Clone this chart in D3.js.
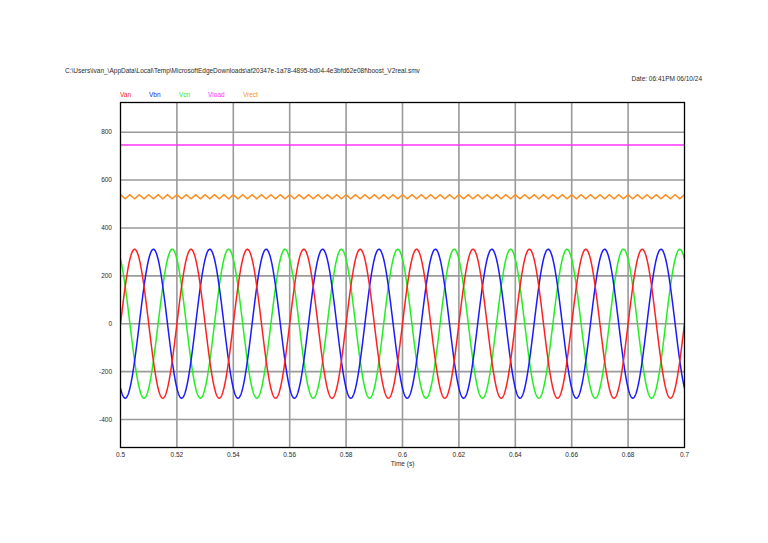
<!DOCTYPE html>
<html><head><meta charset="utf-8">
<script src="https://cdn.jsdelivr.net/npm/d3@7"></script>
<style>body{margin:0;background:#fff}svg{display:block}text{font-family:"Liberation Sans",Arial,sans-serif}</style>
</head><body><svg id="c" width="768" height="543"></svg>
<script>
// ---- data ----
const title = "C:\\Users\\ivan_\\AppData\\Local\\Temp\\MicrosoftEdgeDownloads\\af20347e-1a78-4895-bd04-4e3bfd62e08f\\boost_V2real.smv";
const dateLabel = "Date: 06:41PM 06/10/24";
const seriesNames = ["Van", "Vbn", "Vcn", "Vload", "Vrect"];
const seriesColors = ["#ff2020", "#1a1aff", "#22ee22", "#ff33ff", "#ff8c1a"];
const xTicks = [0.5, 0.52, 0.54, 0.56, 0.58, 0.6, 0.62, 0.64, 0.66, 0.68, 0.7];
const xTickLabels = ["0.5", "0.52", "0.54", "0.56", "0.58", "0.6", "0.62", "0.64", "0.66", "0.68", "0.7"];
const yTicks = [-400, -200, 0, 200, 400, 600, 800];
const yTickLabels = ["-400", "-200", "0", "200", "400", "600", "800"];
const xLabel = "Time (s)";
// AC phase voltages: peak (V), phase at t=0.5 s (deg), line frequency (Hz)
const acPeak = [311, 311, 311];
const acPhaseDeg = [0, -120, 120];
const lineFreq = 50;
// DC load voltage (V)
const vloadLevel = 746;
// rectified voltage ripple: max, min (V), ripple frequency (Hz)
const rectMax = 539, rectMin = 522, rippleFreq = 300;

// ---- drawing ----
const svg = d3.select("#c");
const L = 120.5, R = 684.5, T = 102.5, B = 447.5;
const x = d3.scaleLinear().domain([0.5, 0.7]).range([L, R]);
const y = d3.scaleLinear().domain([-517, 924]).range([B, T]);
const FS = 6.5, TXT = "#2a2a2a";

// grid
const g = svg.append("g");
g.selectAll("line.vx").data(xTicks.slice(1, -1)).enter().append("line")
  .attr("x1", d => x(d)).attr("x2", d => x(d)).attr("y1", T).attr("y2", B)
  .attr("stroke", "#9a9a9a").attr("stroke-width", 1.6);
g.selectAll("line.hy").data(yTicks).enter().append("line")
  .attr("y1", d => y(d)).attr("y2", d => y(d)).attr("x1", L).attr("x2", R)
  .attr("stroke", "#9a9a9a").attr("stroke-width", 1.6);

// series data
const dt = 0.0001;
const ts = d3.range(0.5, 0.7 + dt / 2, dt);
svg.append("clipPath").attr("id", "pc").append("rect")
  .attr("x", L).attr("y", T).attr("width", R - L).attr("height", B - T);
const line = d3.line().x(d => x(d[0])).y(d => y(d[1]));
const plot = svg.append("g").attr("clip-path", "url(#pc)");

const seriesData = [];
for (let k = 0; k < 3; k++) {
  seriesData.push(ts.map(t => [t, acPeak[k] * Math.sin(2 * Math.PI * lineFreq * (t - 0.5) + acPhaseDeg[k] * Math.PI / 180)]));
}
seriesData.push([[0.5, vloadLevel], [0.7, vloadLevel]]);
const rectTs = d3.range(0.5, 0.7 + 1e-9, 1 / rippleFreq / 2);
seriesData.push(rectTs.map((t, i) => [t, i % 2 === 0 ? rectMax : rectMin]));

[4, 3, 2, 1, 0].forEach(k => {
  plot.append("path").datum(seriesData[k]).attr("d", line)
    .attr("fill", "none").attr("stroke", seriesColors[k]).attr("stroke-width", 1.5);
});

// border
svg.append("rect").attr("x", L).attr("y", T).attr("width", R - L).attr("height", B - T)
  .attr("fill", "none").attr("stroke", "#000").attr("stroke-width", 1.3);

// axes labels
svg.selectAll("text.xt").data(xTicks).enter().append("text")
  .attr("x", d => x(d)).attr("y", 457).attr("text-anchor", "middle")
  .attr("font-size", FS).attr("fill", TXT).text((d, i) => xTickLabels[i]);
svg.selectAll("text.yt").data(yTicks).enter().append("text")
  .attr("x", 112).attr("y", d => y(d) + 2.3).attr("text-anchor", "end")
  .attr("font-size", FS).attr("fill", TXT).text((d, i) => yTickLabels[i]);
svg.append("text").attr("x", (L + R) / 2).attr("y", 465.5).attr("text-anchor", "middle")
  .attr("font-size", FS).attr("fill", TXT).text(xLabel);

// title & date
svg.append("text").attr("x", 65).attr("y", 72.5).attr("font-size", FS).attr("fill", TXT).text(title);
svg.append("text").attr("x", 702).attr("y", 80.5).attr("text-anchor", "end").attr("font-size", FS).attr("fill", TXT).text(dateLabel);

// legend
const legX = [120, 149, 179, 208, 243];
svg.selectAll("text.lg").data(seriesNames).enter().append("text")
  .attr("x", (d, i) => legX[i]).attr("y", 97)
  .attr("font-size", FS).attr("fill", (d, i) => seriesColors[i]).text(d => d);
</script></body></html>
